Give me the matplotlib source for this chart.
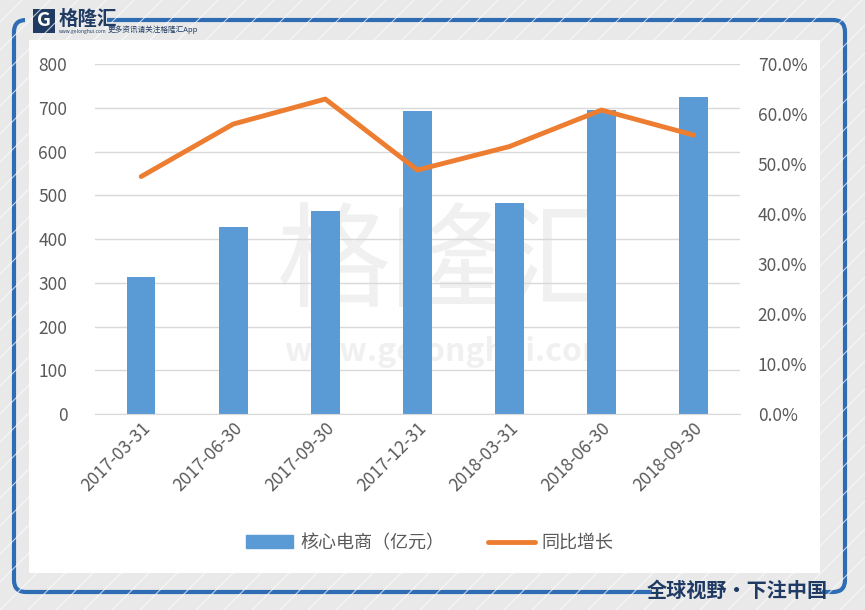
import numpy as np
import matplotlib.pyplot as plt
from matplotlib.patches import Rectangle, FancyBboxPatch
from matplotlib.lines import Line2D
from matplotlib.ticker import MultipleLocator, FuncFormatter

plt.rcParams['font.family'] = ['Noto Sans CJK SC', 'DejaVu Sans']

# 数据
dates = ['2017-03-31', '2017-06-30', '2017-09-30', '2017-12-31',
         '2018-03-31', '2018-06-30', '2018-09-30']
core_ecom = [314, 428, 463, 692, 483, 694, 724]          # 核心电商（亿元）
yoy_growth = [47.5, 58.0, 63.0, 48.8, 53.5, 60.8, 55.8]  # 同比增长 %

bar_color = '#5b9bd5'
line_color = '#ed7d31'
grid_color = '#d9d9d9'
tick_color = '#595959'
frame_blue = '#2e6db4'

fig = plt.figure(figsize=(8.65, 6.1), dpi=100)
fig.patch.set_facecolor('#e9e9e9')

# 背景：斜纹、白底、蓝框、水印
bg = fig.add_axes([0, 0, 1, 1], zorder=-1)
bg.set_xlim(0, 865)
bg.set_ylim(610, 0)
bg.axis('off')
for s in np.arange(-700, 900, 28):
    bg.plot([s, s + 610], [610, 0], color='white', lw=0.8, alpha=0.7)
bg.add_patch(Rectangle((29, 40), 791, 533, facecolor='white', edgecolor='none'))
bg.add_patch(FancyBboxPatch((14, 20), 831, 572, boxstyle='round,pad=0,rounding_size=12',
                            facecolor='none', edgecolor=frame_blue, lw=3))
# 挡住蓝框的位置：logo和口号
bg.add_patch(Rectangle((25, 5), 82, 30, facecolor='#e9e9e9', edgecolor='none'))
bg.add_patch(Rectangle((652, 580), 170, 22, facecolor='#e9e9e9', edgecolor='none'))
bg.text(448, 266, '格隆汇', fontsize=82, color='#f0f0f0', ha='center', va='center')
bg.text(448, 352, 'www.gelonghui.com', fontsize=23, color='#f0f0f0',
        ha='center', va='center', fontweight='bold')
# logo
bg.add_patch(Rectangle((33, 9), 22, 24, facecolor='#1f3b63', edgecolor='none'))
bg.text(44, 21, 'G', fontsize=14, color='white', ha='center', va='center', fontweight='bold')
bg.text(59, 19, '格隆汇', fontsize=14, color='#1f3b63', ha='left', va='center', fontweight='bold')
bg.text(59, 32, 'www.gelonghui.com', fontsize=3.5, color='#1f3b63', ha='left', va='center')
bg.text(108, 30, '更多资讯请关注格隆汇App', fontsize=5.5, color='#1f3b63', ha='left', va='center')
bg.text(737, 590, '全球视野・下注中国', fontsize=14.5, color='#1f3b63',
        ha='center', va='center', fontweight='bold')

# 主图
ax = fig.add_axes([0.11, 0.3213, 0.745, 0.5737])
ax.patch.set_alpha(0)
x = np.arange(len(dates))
ax.bar(x, core_ecom, width=0.31, color=bar_color, zorder=2, label='核心电商（亿元）')
ax.set_ylim(0, 800)
ax.set_xlim(-0.5, len(dates) - 0.5)
ax.yaxis.set_major_locator(MultipleLocator(100))
ax.grid(axis='y', color=grid_color, lw=1, zorder=0)
ax.set_axisbelow(True)
for sp in ['top', 'right', 'left']:
    ax.spines[sp].set_visible(False)
ax.spines['bottom'].set_color(grid_color)
ax.tick_params(axis='both', length=0, colors=tick_color, labelsize=12.5)
ax.tick_params(axis='y', pad=20)
ax.set_xticks(x)
ax.set_xticklabels(dates, rotation=45, ha='right', rotation_mode='anchor', fontsize=12.5)

ax2 = ax.twinx()
ax2.plot(x, yoy_growth, color=line_color, lw=3.5, solid_capstyle='round', zorder=3, label='同比增长')
ax2.set_ylim(0, 70)
ax2.yaxis.set_major_locator(MultipleLocator(10))
ax2.yaxis.set_major_formatter(FuncFormatter(lambda v, p: f'{v:.1f}%'))
for sp in ax2.spines.values():
    sp.set_visible(False)
ax2.tick_params(axis='y', length=0, colors=tick_color, labelsize=12.5, pad=13)

handles = [Rectangle((0, 0), 1, 1, color=bar_color),
           Line2D([0], [0], color=line_color, lw=3.5, solid_capstyle='round')]
fig.legend(handles, ['核心电商（亿元）', '同比增长'], loc='center', bbox_to_anchor=(0.497, 0.11),
           ncol=2, frameon=False, fontsize=13, labelcolor=tick_color,
           handlelength=2.6, handleheight=0.7, handletextpad=0.4, columnspacing=2.4)

fig.savefig('out.png', dpi=100)
